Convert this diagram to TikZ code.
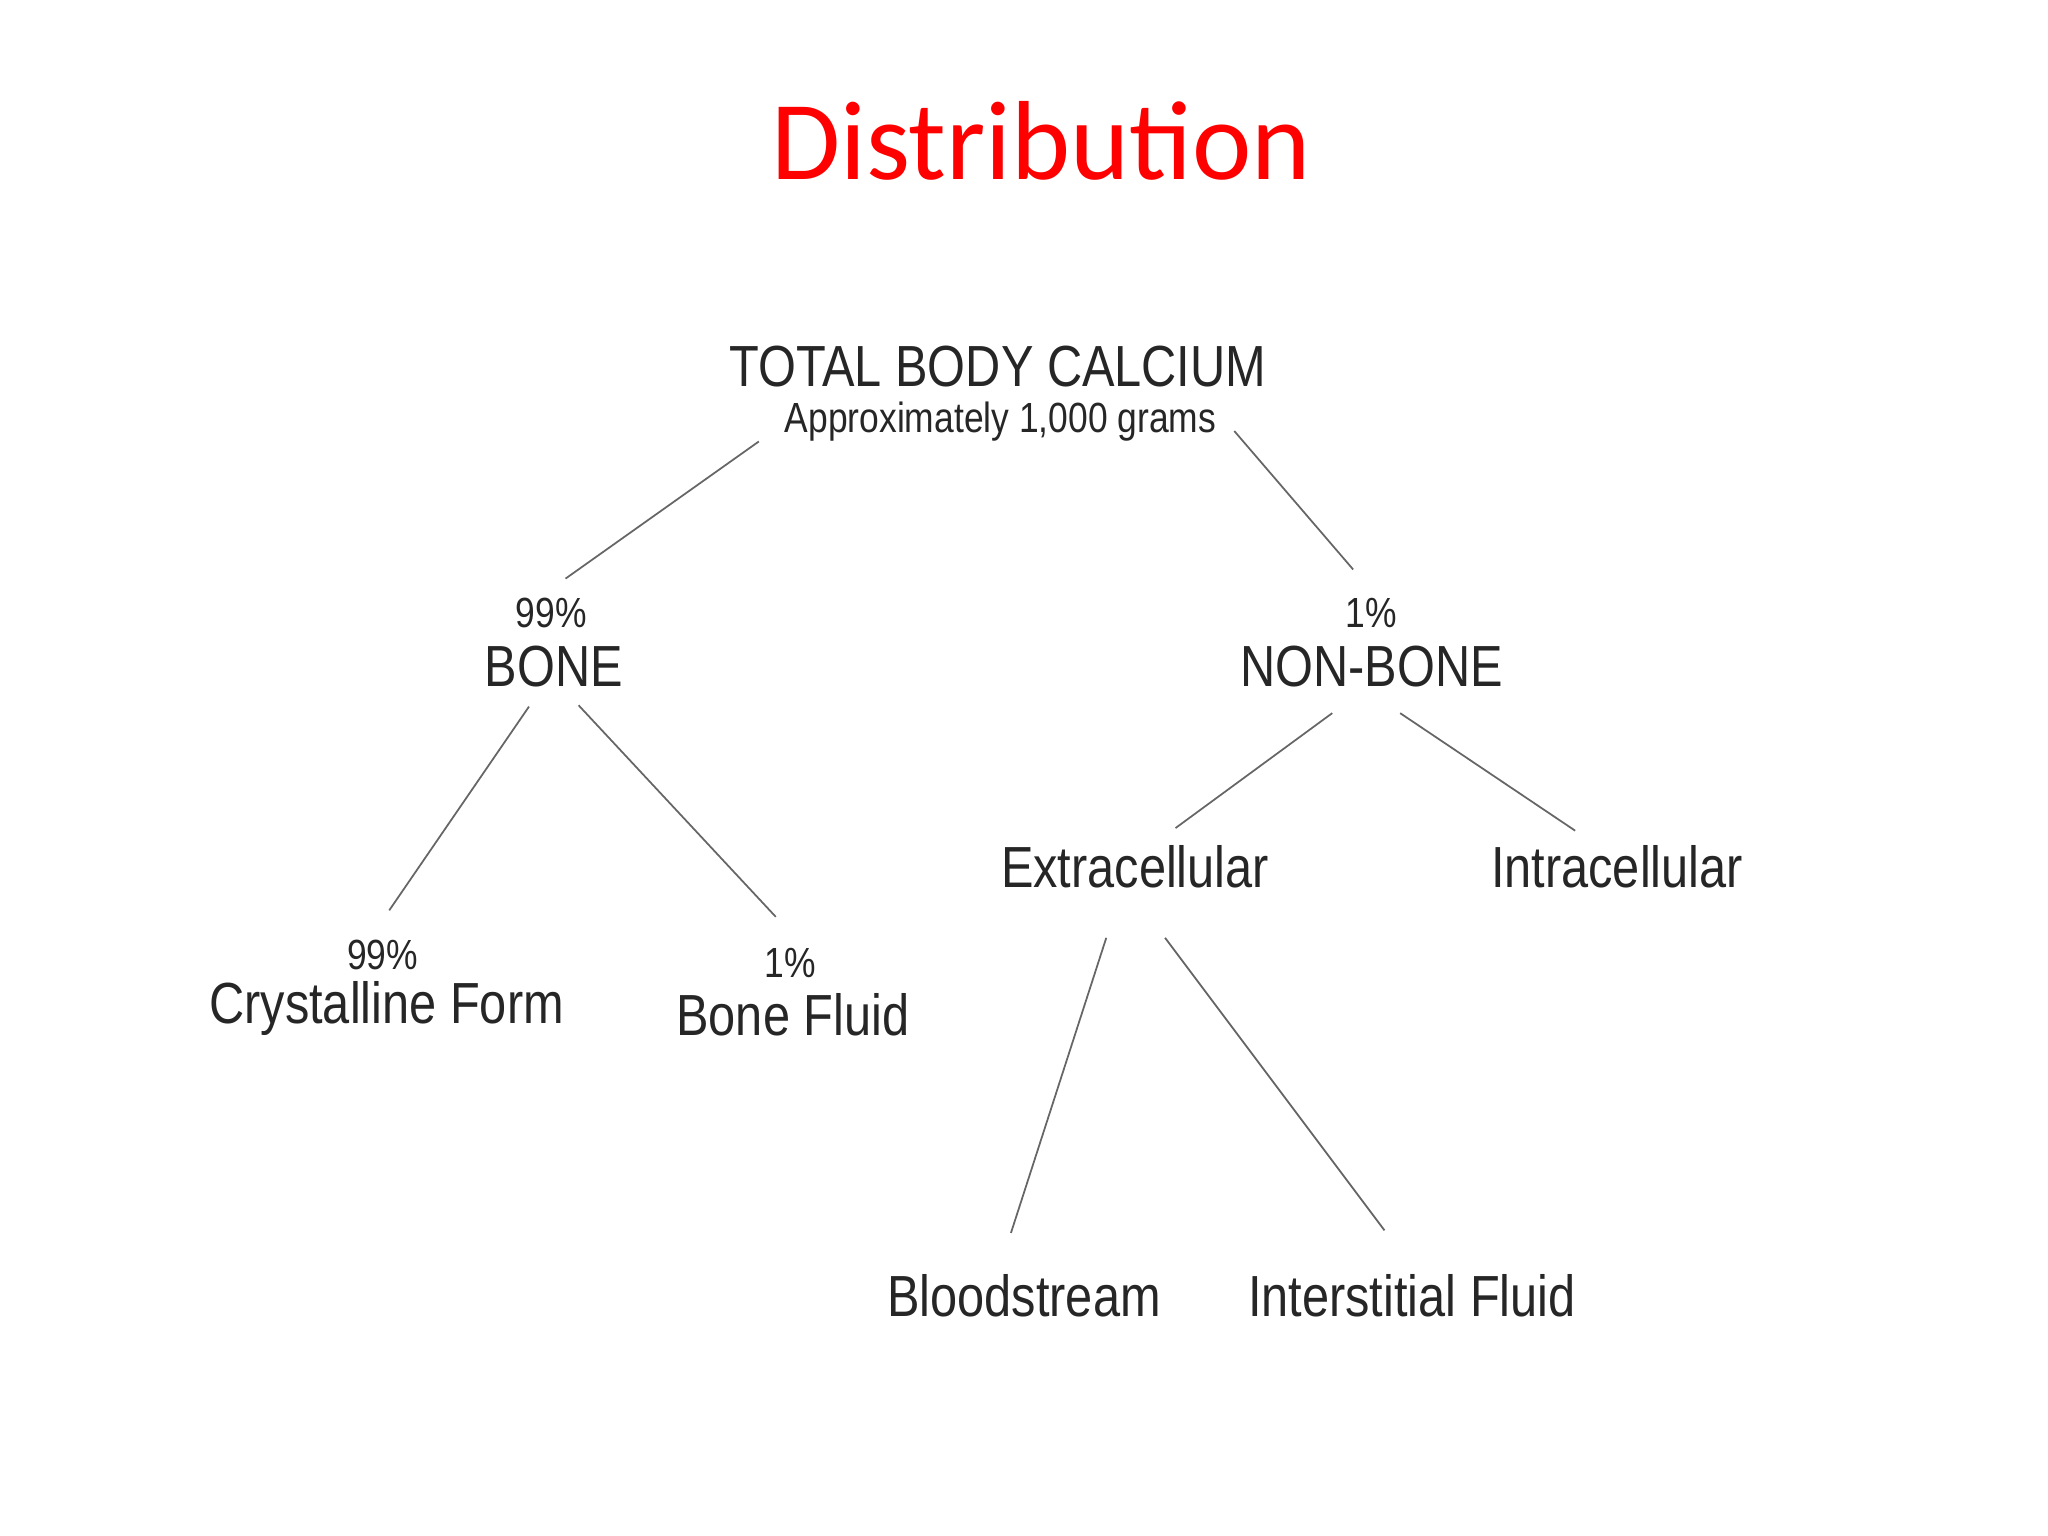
\documentclass[tikz,border=0pt]{standalone}
\usepackage{fontspec}
\setmainfont[FakeStretch=0.84]{Liberation Sans}
\newfontfamily\titlefont{Carlito}
\begin{document}
\begin{tikzpicture}[x=0.013061cm,y=-0.013061cm,
  big/.style={inner sep=0pt,font=\fontsize{16.5}{18}\selectfont,text=black!85},
  small/.style={inner sep=0pt,font=\fontsize{12}{13}\selectfont,text=black!85},
  link/.style={draw=black!60,line width=0.5pt}]
\useasboundingbox (0,0) rectangle (1568,1176);
\node[inner sep=0pt,text=red,font=\titlefont\fontsize{32}{36}\selectfont] (title) at (797,108) {Distribution};
\node[big] (tbc) at (764,281) {TOTAL BODY CALCIUM};
\node[small] (approx) at (766,323) {Approximately 1,000 grams};
\node[small] (p99a) at (422,469) {99\%};
\node[big] (bone) at (424,510) {BONE};
\node[small] (p1a) at (1050,469) {1\%};
\node[big] (nonbone) at (1050,510) {NON-BONE};
\node[big] (extra) at (869,664) {Extracellular};
\node[big] (intra) at (1238,664) {Intracellular};
\node[small] (p99b) at (293,731) {99\%};
\node[big] (cryst) at (296,772) {Crystalline Form};
\node[small] (p1b) at (605,737) {1\%};
\node[big] (bfluid) at (607,777) {Bone Fluid};
\node[big] (blood) at (784,992) {Bloodstream};
\node[big] (inter) at (1081,992) {Interstitial Fluid};
\coordinate (a1) at (581,338); \coordinate (a2) at (433,443);
\coordinate (b1) at (945,330); \coordinate (b2) at (1036,436);
\coordinate (c1) at (405,541); \coordinate (c2) at (298,697);
\coordinate (d1) at (443,540); \coordinate (d2) at (594,702);
\coordinate (e1) at (1020,546); \coordinate (e2) at (900,634);
\coordinate (f1) at (1072,546); \coordinate (f2) at (1206,636);
\coordinate (g1) at (847,718); \coordinate (g2) at (774,944);
\coordinate (h1) at (892,718); \coordinate (h2) at (1060,942);
\draw[link] (a1) -- (a2);
\draw[link] (b1) -- (b2);
\draw[link] (c1) -- (c2);
\draw[link] (d1) -- (d2);
\draw[link] (e1) -- (e2);
\draw[link] (f1) -- (f2);
\draw[link] (g1) -- (g2);
\draw[link] (h1) -- (h2);
\end{tikzpicture}
\end{document}
